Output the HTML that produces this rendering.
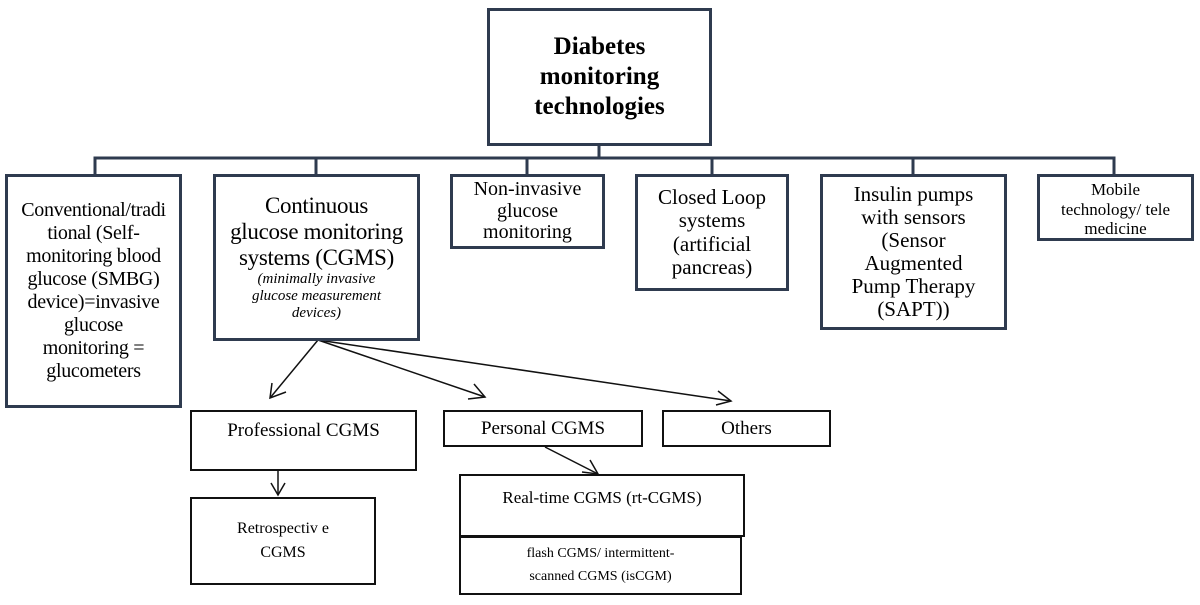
<!DOCTYPE html>
<html><head><meta charset="utf-8"><style>
body{margin:0;width:1200px;height:605px;background:#fff;position:relative;overflow:hidden;font-family:"Liberation Serif",serif;color:#000}
.b{position:absolute;box-sizing:border-box;border:3px solid #2f3b4f;display:flex;align-items:center;justify-content:center;text-align:center;line-height:1.12}
.k{border-color:#111;border-width:2.5px}
svg{position:absolute;left:0;top:0}
</style></head><body>
<svg width="1200" height="605">
<g stroke="#2f3b4f" stroke-width="3" fill="none">
<line x1="599" y1="145" x2="599" y2="158"/>
<polyline points="95,175 95,158 1114,158 1114,175"/>
<line x1="316" y1="158" x2="316" y2="175"/>
<line x1="527" y1="158" x2="527" y2="175"/>
<line x1="712" y1="158" x2="712" y2="175"/>
<line x1="913" y1="158" x2="913" y2="175"/>
</g>
<g stroke="#111" stroke-width="1.5" fill="none">
<line x1="318" y1="340" x2="270" y2="398"/>
<polyline points="272,383 270,398 286,392"/>
<line x1="318" y1="340" x2="485" y2="397"/>
<polyline points="474,384 485,397 468,399"/>
<line x1="318" y1="340" x2="731" y2="401"/>
<polyline points="718,391 731,401 716,405"/>
<line x1="545" y1="447" x2="598" y2="474"/>
<polyline points="590,460 598,474 582,472"/>
<line x1="278" y1="470" x2="278" y2="495"/>
<polyline points="271,483 278,495 285,483"/>
</g>
</svg>
<div class="b" style="left:487px;top:8px;width:225px;height:138px;font-weight:bold;font-size:25px;line-height:30px;">Diabetes<br>monitoring<br>technologies</div>
<div class="b" style="left:5px;top:174px;width:177px;height:234px;font-size:20px;line-height:23px;letter-spacing:-0.3px">Conventional/tradi<br>tional (Self-<br>monitoring blood<br>glucose (SMBG)<br>device)=invasive<br>glucose<br>monitoring =<br>glucometers</div>
<div class="b" style="left:213px;top:174px;width:207px;height:167px;flex-direction:column;"><div style="font-size:23px;line-height:26px;letter-spacing:-0.3px">Continuous<br>glucose monitoring<br>systems (CGMS)</div><div style="font-size:15px;font-style:italic;line-height:1.15">(minimally invasive<br>glucose measurement<br>devices)</div></div>
<div class="b" style="left:450px;top:174px;width:155px;height:75px;font-size:20px;line-height:1.08">Non-invasive<br>glucose<br>monitoring</div>
<div class="b" style="left:635px;top:174px;width:154px;height:117px;font-size:21px;line-height:1.1">Closed Loop<br>systems<br>(artificial<br>pancreas)</div>
<div class="b" style="left:820px;top:174px;width:187px;height:156px;font-size:21px;line-height:1.1">Insulin pumps<br>with sensors<br>(Sensor<br>Augmented<br>Pump Therapy<br>(SAPT))</div>
<div class="b" style="left:1037px;top:174px;width:157px;height:67px;font-size:17px;line-height:1.15;padding-top:4px">Mobile<br>technology/ tele<br>medicine</div>
<div class="b k" style="left:190px;top:410px;width:227px;height:61px;font-size:19px;align-items:flex-start;padding-top:8px">Professional CGMS</div>
<div class="b k" style="left:443px;top:410px;width:200px;height:37px;font-size:19px">Personal CGMS</div>
<div class="b k" style="left:662px;top:410px;width:169px;height:37px;font-size:19px">Others</div>
<div class="b k" style="left:190px;top:497px;width:186px;height:88px;font-size:16px;line-height:1.5">Retrospectiv e<br>CGMS</div>
<div class="b k" style="left:459px;top:474px;width:286px;height:63px;font-size:17px;align-items:flex-start;padding-top:12px">Real-time CGMS (rt-CGMS)</div>
<div class="b k" style="left:459px;top:536px;width:283px;height:59px;font-size:14px;line-height:1.6">flash CGMS/ intermittent-<br>scanned CGMS (isCGM)</div>
</body></html>
